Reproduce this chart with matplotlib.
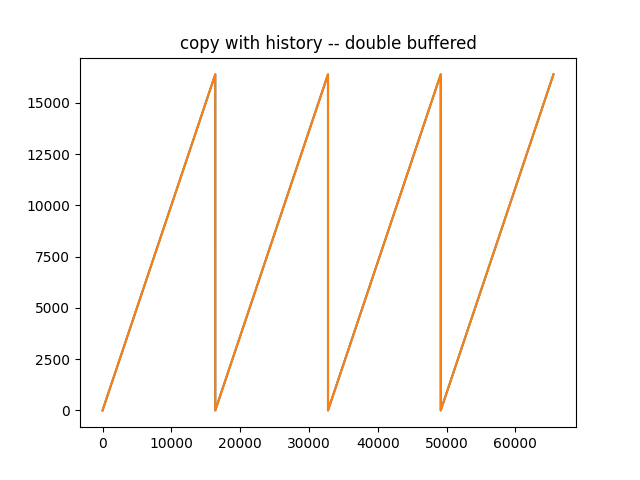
import matplotlib
matplotlib.use("Agg")
import matplotlib.pyplot as plt

# Sawtooth corner points
x_vals = [0, 16383, 16384, 32767, 32768, 49151, 49152, 65535]
y_blue = [0, 16383, 0, 16383, 0, 16383, 0, 16383]
y_orange = [0, 16383, 0, 16383, 0, 16383, 0, 16383]

fig, ax = plt.subplots(figsize=(6.4, 4.8), dpi=100)
ax.plot(x_vals, y_blue, color="#1f77b4")
ax.plot(x_vals, y_orange, color="#ff7f0e")
ax.set_title("copy with history -- double buffered")
fig.savefig("out.png")
